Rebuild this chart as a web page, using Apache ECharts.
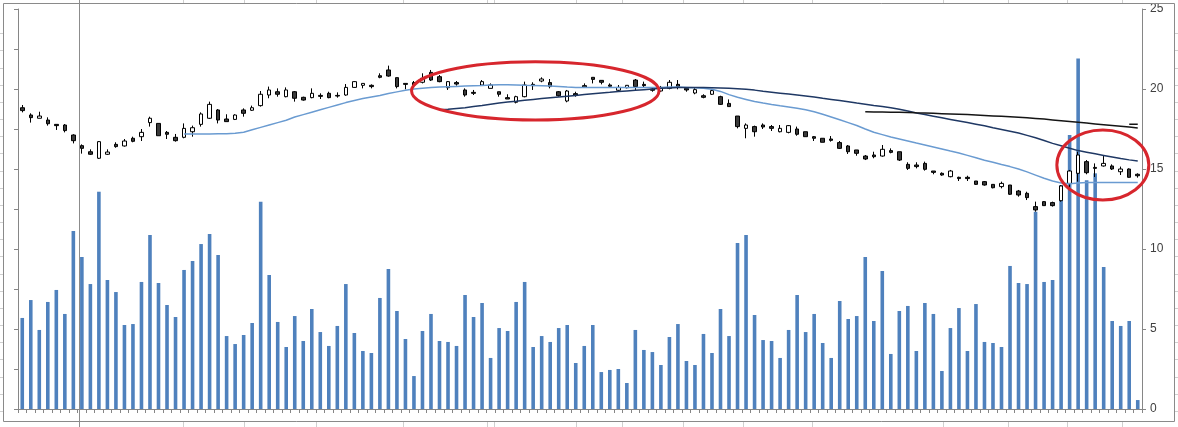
<!DOCTYPE html>
<html><head><meta charset="utf-8">
<script src="https://cdn.jsdelivr.net/npm/echarts@6/dist/echarts.min.js"></script>
<style>html,body{margin:0;padding:0;background:#fff}#c{width:1178px;height:427px}</style>
</head><body><div id="c"></div>
<script>
// ---- data ----
const opens = [18.83,18.375,18.17,18.06,17.79,17.75,17.125,16.46,16.08,15.67,
15.92,16.54,16.44,16.92,17.02,17.9,17.85,17.29,16.98,16.98,
17.33,17.79,18.17,18.69,18.125,18.10,18.69,18.67,18.96,19.625,
19.83,19.52,19.83,19.48,19.46,19.6,19.73,19.6,19.625,20.1,
20.23,20.23,20.83,21.19,20.71,20.35,20.40,20.42,21.04,20.77,
20.08,20.40,19.94,19.79,20.25,20.04,19.83,19.46,19.17,19.52,
20.29,20.5,20.40,19.83,19.25,19.71,20.21,20.73,20.54,20.25,
19.92,20.08,20.56,20.29,20.0,19.875,20.04,20.29,20.04,19.75,
19.58,19.67,19.52,19.1,18.31,17.54,17.65,17.75,17.65,17.33,
17.29,17.5,17.33,17.02,16.92,16.875,16.65,16.44,16.19,15.81,
15.875,15.81,16.15,16.08,15.29,15.25,15.35,14.875,14.73,14.52,
14.48,14.48,14.25,14.21,14.04,13.9,14.0,13.625,13.48,12.65,
12.96,12.9,13.02,14.1,14.73,15.46,15.1,15.19,15.19,14.83,
15.0,14.67];
const closes = [18.65,18.21,18.31,17.83,17.71,17.40,16.77,16.29,15.92,16.71,
16.06,16.40,16.75,16.73,17.29,18.17,17.08,17.17,16.77,17.54,
17.58,18.44,19.04,18.06,17.96,18.375,18.48,18.83,19.67,19.94,
19.67,19.94,19.42,19.31,19.73,19.54,19.46,19.56,20.1,20.46,
20.35,20.15,20.73,20.81,20.15,20.29,20.25,20.67,20.56,20.46,
20.46,20.31,19.625,19.73,20.46,20.25,19.67,19.375,19.52,20.25,
20.21,20.625,20.15,19.58,19.875,19.625,20.1,20.6,20.42,20.17,
20.1,20.23,20.15,20.21,19.92,20.1,20.42,20.15,19.94,19.96,
19.48,19.9,19.04,18.9,17.65,17.75,17.33,17.625,17.54,17.54,
17.71,17.17,17.02,16.92,16.67,16.79,16.29,16.08,15.98,15.625,
15.77,16.23,16.04,15.56,15.04,15.15,14.98,14.79,14.625,14.875,
14.4,14.4,14.04,14.0,13.83,14.1,13.42,13.375,13.21,12.44,
12.71,12.71,13.94,14.875,15.875,14.77,15.04,15.35,15.0,15.0,
14.48,14.58];
const lows = [18.54,17.9,18.17,17.71,17.44,17.29,16.6,15.96,15.875,15.625,
15.875,16.33,16.4,16.67,16.75,17.65,17.08,16.875,16.71,16.92,
17.02,17.65,18.125,17.85,17.96,18.06,18.27,18.625,18.9,19.42,
19.52,19.48,19.21,19.27,19.42,19.375,19.42,19.46,19.58,20.08,
20.04,20.04,20.67,20.77,20.04,19.98,20.15,20.35,20.5,20.42,
19.94,20.21,19.52,19.625,20.21,20.04,19.52,19.375,19.1,19.48,
19.94,20.42,20.04,19.52,19.17,19.52,20.1,20.35,20.29,20.1,
19.875,20.04,19.875,20.08,19.83,19.83,19.98,19.98,19.83,19.67,
19.42,19.625,19.0,18.9,17.54,16.92,17.02,17.5,17.375,17.29,
17.23,17.08,17.02,16.75,16.67,16.71,16.25,15.94,15.83,15.56,
15.67,15.77,15.98,15.5,14.94,15.04,14.9,14.67,14.58,14.48,
14.25,14.25,14.0,13.96,13.79,13.79,13.375,13.27,13.06,12.33,
12.71,12.65,12.96,13.79,14.21,14.67,14.5,15.15,14.94,14.625,
14.46,14.46];
const highs = [19.0,18.48,18.58,18.23,17.79,17.81,17.17,16.54,16.23,16.75,
16.23,16.67,16.875,17.02,17.5,18.27,17.85,17.375,17.19,17.85,
17.71,18.54,19.21,18.75,18.42,18.42,18.79,18.96,19.875,20.15,
20.04,20.1,19.875,19.52,20.04,19.73,19.83,19.79,20.31,20.5,
20.35,20.29,20.98,21.46,20.71,20.35,20.5,20.98,21.19,20.875,
20.5,20.5,20.04,19.94,20.56,20.35,19.83,19.67,19.58,20.46,
20.42,20.73,20.625,19.875,19.94,19.83,20.35,20.73,20.54,20.35,
20.25,20.25,20.625,20.46,20.08,20.19,20.56,20.56,20.1,20.08,
19.67,19.98,19.58,19.35,18.31,17.85,17.71,17.85,17.75,17.75,
17.75,17.65,17.33,17.06,16.92,17.06,16.75,16.5,16.19,15.875,
16.08,16.5,16.29,16.08,15.42,15.42,15.46,14.875,14.79,14.94,
14.52,14.58,14.25,14.25,14.04,14.21,14.0,13.69,13.58,12.96,
13.0,12.96,14.0,14.94,16.08,15.56,15.35,15.81,15.29,15.15,
15.04,14.73];
const volumes = [5.69,6.81,4.94,6.69,7.44,5.94,11.125,9.5,7.81,13.58,
8.06,7.31,5.25,5.31,7.94,10.875,7.875,6.5,5.75,8.69,
9.25,10.31,10.94,9.625,4.56,4.06,4.625,5.375,12.96,8.375,
5.44,3.875,5.81,4.25,6.25,4.81,3.94,5.19,7.81,4.75,
3.625,3.5,6.94,8.75,6.125,4.375,2.06,4.875,5.94,4.25,
4.19,3.94,7.125,5.75,6.625,3.19,5.06,4.875,6.69,7.94,
3.875,4.56,4.19,5.06,5.25,2.875,3.94,5.25,2.31,2.44,
2.5,1.625,4.94,3.69,3.56,2.75,4.5,5.31,3.0,2.75,
4.69,3.5,6.25,4.56,10.375,10.875,5.875,4.31,4.25,3.19,
4.94,7.125,4.81,5.94,4.125,3.19,6.75,5.625,5.81,9.5,
5.5,8.625,3.44,6.125,6.44,3.625,6.625,5.94,2.375,5.06,
6.31,3.625,6.56,4.19,4.125,3.875,8.94,7.875,7.81,12.33,
7.94,8.06,14.0,17.125,21.9,14.3,14.73,8.875,5.5,5.19,
5.5,0.56];
const ma20 = [null,null,null,null,null,null,null,null,null,null,
null,null,null,null,null,null,null,null,null,17.19,
17.19,17.19,17.19,17.2,17.21,17.23,17.3,17.45,17.6,17.75,
17.9,18.05,18.25,18.4,18.55,18.7,18.85,19.0,19.15,19.28,
19.4,19.5,19.6,19.72,19.82,19.92,20.0,20.05,20.1,20.12,
20.14,20.16,20.18,20.2,20.22,20.25,20.27,20.27,20.25,20.23,
20.22,20.2,20.18,20.15,20.12,20.1,20.1,20.1,20.1,20.1,
20.1,20.1,20.1,20.1,20.1,20.1,20.12,20.12,20.1,20.08,
20.05,19.98,19.85,19.65,19.48,19.35,19.22,19.12,19.03,18.95,
18.88,18.8,18.7,18.58,18.42,18.25,18.08,17.9,17.72,17.5,
17.3,17.15,17.0,16.88,16.75,16.62,16.5,16.38,16.25,16.12,
16.0,15.85,15.7,15.55,15.42,15.28,15.15,15.0,14.82,14.62,
14.42,14.25,14.12,14.08,14.12,14.15,14.15,14.15,14.15,14.15,
14.15,14.15];
const ma50 = [null,null,null,null,null,null,null,null,null,null,
null,null,null,null,null,null,null,null,null,null,
null,null,null,null,null,null,null,null,null,null,
null,null,null,null,null,null,null,null,null,null,
null,null,null,null,null,null,null,null,null,18.7,
18.73,18.78,18.83,18.9,18.97,19.05,19.12,19.18,19.23,19.3,
19.35,19.4,19.45,19.5,19.55,19.6,19.65,19.7,19.75,19.79,
19.84,19.88,19.92,19.96,20.0,20.04,20.07,20.1,20.1,20.1,
20.1,20.08,20.06,20.04,20.02,19.98,19.93,19.86,19.8,19.74,
19.68,19.62,19.56,19.5,19.42,19.35,19.28,19.2,19.12,19.05,
18.97,18.9,18.83,18.73,18.62,18.5,18.4,18.3,18.2,18.1,
18.0,17.9,17.8,17.7,17.58,17.47,17.36,17.25,17.1,16.95,
16.78,16.6,16.45,16.3,16.15,16.05,15.95,15.85,15.75,15.65,
15.57,15.5];
const ma100 = [null,null,null,null,null,null,null,null,null,null,
null,null,null,null,null,null,null,null,null,null,
null,null,null,null,null,null,null,null,null,null,
null,null,null,null,null,null,null,null,null,null,
null,null,null,null,null,null,null,null,null,null,
null,null,null,null,null,null,null,null,null,null,
null,null,null,null,null,null,null,null,null,null,
null,null,null,null,null,null,null,null,null,null,
null,null,null,null,null,null,null,null,null,null,
null,null,null,null,null,null,null,null,null,18.58,
18.57,18.56,18.55,18.54,18.53,18.51,18.5,18.48,18.46,18.44,
18.42,18.4,18.38,18.35,18.32,18.29,18.26,18.23,18.2,18.16,
18.12,18.07,18.02,17.97,17.92,17.87,17.82,17.77,17.72,17.67,
17.62,17.57];
const maLong = [null,null,null,null,null,null,null,null,null,null,
null,null,null,null,null,null,null,null,null,null,
null,null,null,null,null,null,null,null,null,null,
null,null,null,null,null,null,null,null,null,null,
null,null,null,null,null,null,null,null,null,null,
null,null,null,null,null,null,null,null,null,null,
null,null,null,null,null,null,null,null,null,null,
null,null,null,null,null,null,null,null,null,null,
null,null,null,null,null,null,null,null,null,null,
null,null,null,null,null,null,null,null,null,null,
null,null,null,null,null,null,null,null,null,null,
null,null,null,null,null,null,null,null,null,null,
null,null,null,null,null,null,null,null,null,null,
17.8,17.8];
const rightTicks = [0, 5, 10, 15, 20, 25];
// annotation ellipses in data units: [centre index, centre value, half-width (categories), half-height (value)]
const highlightA = [60.25, 19.88, 14.53, 1.82];
const highlightB = [126.9, 15.25, 5.4, 2.19];

const categories = opens.map((_, i) => String(i + 1));
const candleData = opens.map((o, i) => [o, closes[i], lows[i], highs[i]]);

const axisGrey = '#868686';
const chart = echarts.init(document.getElementById('c'), null, {renderer: 'canvas'});
const option = {
  animation: false,
  backgroundColor: '#ffffff',
  grid: {left: 18, right: 36, top: 9, bottom: 18, containLabel: false},
  xAxis: {
    type: 'category', data: categories, boundaryGap: true,
    axisLine: {lineStyle: {color: axisGrey, width: 1}},
    axisTick: {show: true, interval: 0, length: 4, inside: false, lineStyle: {color: axisGrey}},
    axisLabel: {show: false}, splitLine: {show: false}
  },
  yAxis: [
    {type: 'value', min: 0, max: 25, interval: 2.5, position: 'left',
     axisLine: {show: true, lineStyle: {color: axisGrey}},
     axisTick: {show: true, length: 4, lineStyle: {color: axisGrey}},
     axisLabel: {show: false}, splitLine: {show: false}},
    {type: 'value', min: rightTicks[0], max: rightTicks[rightTicks.length - 1], interval: 5, position: 'right',
     axisLine: {show: true, lineStyle: {color: axisGrey}},
     axisTick: {show: true, length: 4, lineStyle: {color: axisGrey}},
     axisLabel: {show: true, margin: 8, color: '#404040', fontSize: 12, fontFamily: 'Liberation Sans, Arial, sans-serif'},
     splitLine: {show: false}}
  ],
  series: [
    {type: 'bar', name: 'Volume', data: volumes, yAxisIndex: 1, barWidth: 3.6,
     itemStyle: {color: '#4f81bd'}, z: 1},
    {type: 'candlestick', name: 'Price', data: candleData, yAxisIndex: 0, barWidth: 4,
     itemStyle: {color: '#ffffff', color0: '#3a3a3a', borderColor: '#000000', borderColor0: '#000000', borderWidth: 1},
     z: 3},
    {type: 'line', name: 'MA20', data: ma20, showSymbol: false, smooth: false, connectNulls: false,
     lineStyle: {color: '#6a9bd1', width: 1.5}, z: 4},
    {type: 'line', name: 'MA50', data: ma50, showSymbol: false, smooth: false,
     lineStyle: {color: '#1f3864', width: 1.5}, z: 4},
    {type: 'line', name: 'MA100', data: ma100, showSymbol: false, smooth: false,
     lineStyle: {color: '#151515', width: 1.5}, z: 4},
    {type: 'line', name: 'MA long', data: maLong, showSymbol: false, smooth: false,
     lineStyle: {color: '#151515', width: 1.5}, z: 4}
  ]
};
chart.setOption(option);

// annotation ellipses placed through the axes' own scale
const p0 = chart.convertToPixel({gridIndex: 0}, [0, 0]);
const p1 = chart.convertToPixel({gridIndex: 0}, [opens.length - 1, 25]);
const sx = (p1[0] - p0[0]) / (opens.length - 1);
const sy = (p1[1] - p0[1]) / 25;
function ellipse(h) {
  return {type: 'ellipse', z: 100, silent: true,
    shape: {cx: p0[0] + h[0] * sx, cy: p0[1] + h[1] * sy, rx: h[2] * sx, ry: Math.abs(h[3] * sy)},
    style: {fill: null, stroke: '#d7262d', lineWidth: 3}};
}
// spreadsheet decoration around the chart
const deco = [];
const cols = [183, 244, 316, 403, 487, 494, 576, 622, 683, 743, 812, 943, 1008, 1067, 1122];
cols.forEach(x => {
  deco.push({type: 'line', z: 90, silent: true, shape: {x1: x + 0.5, y1: 0, x2: x + 0.5, y2: 3}, style: {stroke: '#d0d0d0', lineWidth: 1}});
  deco.push({type: 'line', z: 90, silent: true, shape: {x1: x + 0.5, y1: 422, x2: x + 0.5, y2: 427}, style: {stroke: '#d0d0d0', lineWidth: 1}});
});
for (let k = 1; k <= 23; k++) {
  const y = Math.round(16 + 17.17 * k) + 0.5;
  deco.push({type: 'line', z: 90, silent: true, shape: {x1: 0, y1: y, x2: 3, y2: y}, style: {stroke: '#d0d0d0', lineWidth: 1}});
  deco.push({type: 'line', z: 90, silent: true, shape: {x1: 1175, y1: y, x2: 1178, y2: y}, style: {stroke: '#d0d0d0', lineWidth: 1}});
}
deco.push({type: 'rect', z: 91, silent: true, shape: {x: 3.5, y: 3.5, width: 1171, height: 418}, style: {fill: null, stroke: '#8a8a8a', lineWidth: 1}});
deco.push({type: 'line', z: 92, silent: true, shape: {x1: 79.5, y1: 0, x2: 79.5, y2: 427}, style: {stroke: '#8c8c8c', lineWidth: 1}});
chart.setOption({graphic: {elements: deco.concat([ellipse(highlightA), ellipse(highlightB)])}});
</script>
</body></html>
